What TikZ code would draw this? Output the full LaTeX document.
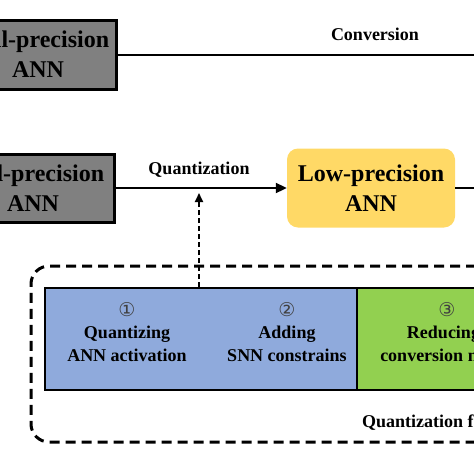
\documentclass[tikz,border=0pt]{standalone}
\usepackage{fontspec}
\setmainfont{Liberation Serif}
\newfontfamily\symfont{DejaVu Sans}
\usetikzlibrary{arrows.meta}
\definecolor{grayfill}{RGB}{128,128,128}
\definecolor{yellowfill}{RGB}{255,217,102}
\definecolor{bluefill}{RGB}{143,170,220}
\definecolor{greenfill}{RGB}{146,208,80}
\begin{document}
\begin{tikzpicture}[x=1pt,y=-1pt,
  grayblock/.style={draw=black, line width=3pt, fill=grayfill, inner sep=0pt, align=center,
    font=\fontsize{24}{30}\selectfont\bfseries},
  yellowblock/.style={fill=yellowfill, rounded corners=11pt, inner sep=0pt, align=center,
    font=\fontsize{24}{30}\selectfont\bfseries},
  stagebox/.style={draw=black, line width=2.6pt, inner sep=0pt},
  conn/.style={line width=2pt, draw=black},
  lbl/.style={font=\fontsize{18}{22}\selectfont\bfseries, inner sep=0pt},
  numlbl/.style={font=\fontsize{19}{22}\selectfont\symfont, text=black!75, inner sep=0pt},
  steptext/.style={font=\fontsize{18}{22.5}\selectfont\bfseries, align=center, inner sep=0pt},
  frame/.style={draw=black, line width=3pt, dash pattern=on 10pt off 6pt, rounded corners=18pt},
  dasharrow/.style={draw=black, line width=1.8pt, dash pattern=on 5pt off 3pt,
    -{Triangle[length=9pt,width=8pt]}}
]
\useasboundingbox (0,0) rectangle (474,474);
\clip (0,0) rectangle (474,474);

% top row
\node[grayblock, minimum width=156pt, minimum height=69pt] (g1) at (38,54.5) {Full-precision\\ANN};
\coordinate (convend) at (490,54.5);
\draw[conn] (g1.east) -- (convend);
\node[lbl, anchor=base] (convlbl) at (375,40) {Conversion};

% second row
\node[grayblock, minimum width=162pt, minimum height=68pt] (g2) at (33,188) {Full-precision\\ANN};
\node[yellowblock, minimum width=168pt, minimum height=79pt] (lp) at (371,188) {Low-precision\\ANN};
\draw[conn, -{Triangle[length=11pt,width=10pt]}] (g2.east) -- (lp.west);
\node[lbl, anchor=base] (qlbl) at (199,174) {Quantization};
\coordinate (lpend) at (490,188);
\draw[conn] (lp.east) -- (lpend);

% framework frame
\draw[frame] (540,266) -- (31,266) -- (31,442) -- (540,442);

% stages
\node[stagebox, fill=greenfill, minimum width=183pt, minimum height=102pt] (green) at (448.5,339) {};
\node[stagebox, fill=bluefill, minimum width=312pt, minimum height=102pt] (blue) at (201,339) {};

% dashed arrow
\coordinate (qsrc) at (199,287);
\coordinate (qdst) at (199,193);
\draw[dasharrow] (qsrc) -- (qdst);

\node[numlbl] (n1) at (127,310) {①};
\node[numlbl] (n2) at (287,310) {②};
\node[numlbl] (n3) at (447,310) {③};
\node[steptext] (t1) at (127,344) {Quantizing\\ANN activation};
\node[steptext] (t2) at (287,344) {Adding\\SNN constrains};
\node[steptext] (t3) at (443.5,344) {Reducing\\conversion noise};

\node[lbl, anchor=base west] (fw) at (362,427) {Quantization framework};
\end{tikzpicture}
\end{document}
